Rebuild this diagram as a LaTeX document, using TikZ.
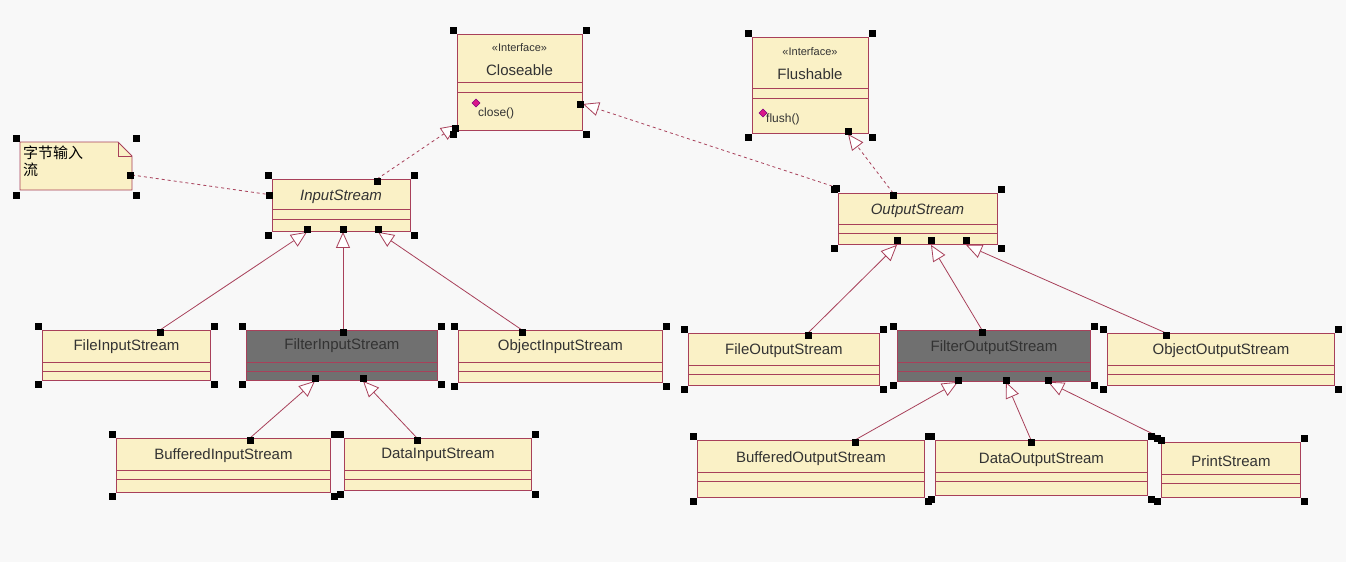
\documentclass[tikz,border=0pt]{standalone}
\usepackage{fontspec}
\setmainfont{Liberation Sans}
\newfontfamily\cjk{Noto Sans CJK SC}
\usetikzlibrary{calc,arrows.meta,shapes.misc}
\definecolor{bfill}{HTML}{FAF1C6}
\definecolor{bline}{HTML}{A8405A}
\definecolor{gfill}{HTML}{707070}
\definecolor{bg}{HTML}{F8F8F8}
\tikzset{
  box/.style={draw=bline,line width=0.9pt,fill=bfill,anchor=north west,inner sep=0pt},
  gbox/.style={box,fill=gfill},
  lbl/.style={font=\fontsize{15}{15}\selectfont,text=black!80,inner sep=0pt},
  sml/.style={font=\fontsize{11}{11}\selectfont,text=black!80,inner sep=0pt},
  gen/.style={draw=bline,line width=0.8pt,-{Triangle[open,length=16pt,width=14pt,fill=white]}},
  real/.style={gen,dashed,dash pattern=on 3pt off 3pt},
  note/.style={draw=bline,line width=0.8pt,dashed,dash pattern=on 3pt off 3pt},
}
\newcommand\hd[1]{\fill[black] ($(#1)+(-3.5,-3.5)$) rectangle +(7,7);}
\newcommand\corners[1]{\hd{$(#1.north west)+(-4,-4)$}\hd{$(#1.north east)+(4,-4)$}\hd{$(#1.south west)+(-4,4)$}\hd{$(#1.south east)+(4,4)$}}
% \cls{style}{name}{x1}{y1}{w}{h}{line1 offset}{line2 offset}{text}{text offset}
\newcommand\cls[9]{%
  \node[#1,minimum width=#5pt,minimum height=#6pt] (#2) at (#3,#4) {};
  \draw[bline,line width=0.8pt] ($(#2.north west)+(0,#7)$) -- ($(#2.north east)+(0,#7)$);
  \draw[bline,line width=0.8pt] ($(#2.north west)+(0,#8)$) -- ($(#2.north east)+(0,#8)$);
  \node[lbl] (#2-t) at ($(#2.north)+(0,#9)$) {};}
\begin{document}
\begin{tikzpicture}[x=1pt,y=-1pt]
\fill[bg] (0,0) rectangle (1346,562);
\useasboundingbox (0,0) rectangle (1346,562);
% Interfaces
\node[box,minimum width=125pt,minimum height=96pt] (closeable) at (457,34) {};
\draw[bline,line width=0.8pt] (457,82) -- (582,82) (457,92) -- (582,92);
\node[sml] (closeable-s) at (519.5,48) {<<Interface>>};
\node[lbl] (closeable-n) at (519.5,70) {Closeable};
\fill[magenta!80!violet,draw=violet] (472,103) -- ++(4,-4) -- ++(4,4) -- ++(-4,4) -- cycle;
\node[sml,font=\fontsize{12}{12}\selectfont,anchor=west] (closeable-m) at (478,113) {close()};
\node[box,minimum width=116pt,minimum height=96pt] (flushable) at (752,37) {};
\draw[bline,line width=0.8pt] (752,88) -- (868,88) (752,98) -- (868,98);
\node[sml] (flushable-s) at (810,52) {<<Interface>>};
\node[lbl] (flushable-n) at (810,74) {Flushable};
\fill[magenta!80!violet,draw=violet] (759,113) -- ++(4,-4) -- ++(4,4) -- ++(-4,4) -- cycle;
\node[sml,font=\fontsize{12}{12}\selectfont,anchor=west] (flushable-m) at (766,119) {flush()};
% note
\draw[bline,line width=0.8pt,fill=bfill] (20,142) -- (118,142) -- (132,156) -- (132,190) -- (20,190) -- cycle;
\draw[bline,line width=0.8pt] (118,142) -- (118,156) -- (132,156);
\coordinate (noteR) at (132,175);
\node[anchor=north west,inner sep=0pt,font=\cjk\fontsize{15}{17}\selectfont,align=left] (notetext) at (23,146) {字节输入\\流};
% classes
\node[box,minimum width=138pt,minimum height=52pt] (is) at (272,179) {};
\draw[bline,line width=0.8pt] (272,209) -- (410,209) (272,219) -- (410,219);
\node[lbl,font=\fontsize{15}{15}\selectfont\itshape] (is-n) at (341,197) {InputStream};
\node[box,minimum width=159pt,minimum height=51pt] (os) at (838,193) {};
\draw[bline,line width=0.8pt] (838,224) -- (997,224) (838,233) -- (997,233);
\node[lbl,font=\fontsize{15}{15}\selectfont\itshape] (os-n) at (917.5,211) {OutputStream};
\newcommand\simple[8]{%
  \node[#1,minimum width=#5pt,minimum height=#6pt] (#2) at (#3,#4) {};
  \draw[bline,line width=0.8pt] ($(#2.north west)+(0,32)$) -- ($(#2.north east)+(0,32)$);
  \draw[bline,line width=0.8pt] ($(#2.north west)+(0,41)$) -- ($(#2.north east)+(0,41)$);
  \node[lbl] (#2-n) at ($(#2.north)+(0,#8)$) {#7};}
\simple{box}{fis}{42}{330}{168}{50}{FileInputStream}{17}
\simple{gbox}{flis}{246}{330}{191}{50}{FilterInputStream}{16}
\simple{box}{ois}{458}{330}{204}{52}{ObjectInputStream}{17}
\simple{box}{fos}{688}{333}{191}{52}{FileOutputStream}{18}
\simple{gbox}{flos}{897}{330}{193}{51}{FilterOutputStream}{18}
\simple{box}{oos}{1107}{333}{227}{52}{ObjectOutputStream}{18}
\simple{box}{bis}{116}{438}{214}{54}{BufferedInputStream}{18}
\simple{box}{dis}{344}{438}{187}{52}{DataInputStream}{17}
\simple{box}{bos}{697}{440}{227}{57}{BufferedOutputStream}{19}
\simple{box}{dos}{935}{440}{212}{55}{DataOutputStream}{20}
\simple{box}{ps}{1161}{442}{139}{55}{PrintStream}{19}
% connectors
\draw[real] (is.north -| 377,0) -- (closeable.south west |- 0,125);
\draw[real] (os.north west |- 0,188) -- (closeable.east |- 0,104);
\draw[real] (os.north -| 893,0) -- (flushable.south -| 848,0);
\draw[note] (noteR) -- (is.west |- 0,195);
\draw[gen] (fis.north -| 160,0) -- (is.south -| 307,0);
\draw[gen] (flis.north -| 343,0) -- (is.south -| 343,0);
\draw[gen] (ois.north -| 522,0) -- (is.south -| 378,0);
\draw[gen] (bis.north -| 250,0) -- (flis.south -| 315,0);
\draw[gen] (dis.north -| 417,0) -- (flis.south -| 363,0);
\draw[gen] (fos.north -| 808,0) -- (os.south -| 897,0);
\draw[gen] (flos.north -| 982,0) -- (os.south -| 931,0);
\draw[gen] (oos.north -| 1166,0) -- (os.south -| 966,0);
\draw[gen] (bos.north -| 855,0) -- (flos.south -| 958,0);
\draw[gen] (dos.north -| 1031,0) -- (flos.south -| 1006,0);
\draw[gen] (ps.north west |- 0,438) -- (flos.south -| 1048,0);
% handles
\corners{closeable}\corners{flushable}\corners{is}\corners{os}
\corners{fis}\corners{flis}\corners{ois}\corners{fos}\corners{flos}\corners{oos}
\corners{bis}\corners{dis}\corners{bos}\corners{dos}\corners{ps}
\hd{16,138}\hd{136,138}\hd{16,195}\hd{136,195}\hd{130,175}
\hd{269,195}\hd{377,181}\hd{455,128}\hd{580,104}\hd{836,188}\hd{893,195}\hd{848,131}
\hd{307,229}\hd{343,229}\hd{378,229}\hd{160,332}\hd{343,332}\hd{522,332}
\hd{315,378}\hd{363,378}\hd{250,440}\hd{417,440}
\hd{897,240}\hd{931,240}\hd{966,240}\hd{808,335}\hd{982,332}\hd{1166,335}
\hd{958,380}\hd{1006,380}\hd{1048,380}\hd{855,442}\hd{1031,442}\hd{1161,440}
\end{tikzpicture}
\end{document}
